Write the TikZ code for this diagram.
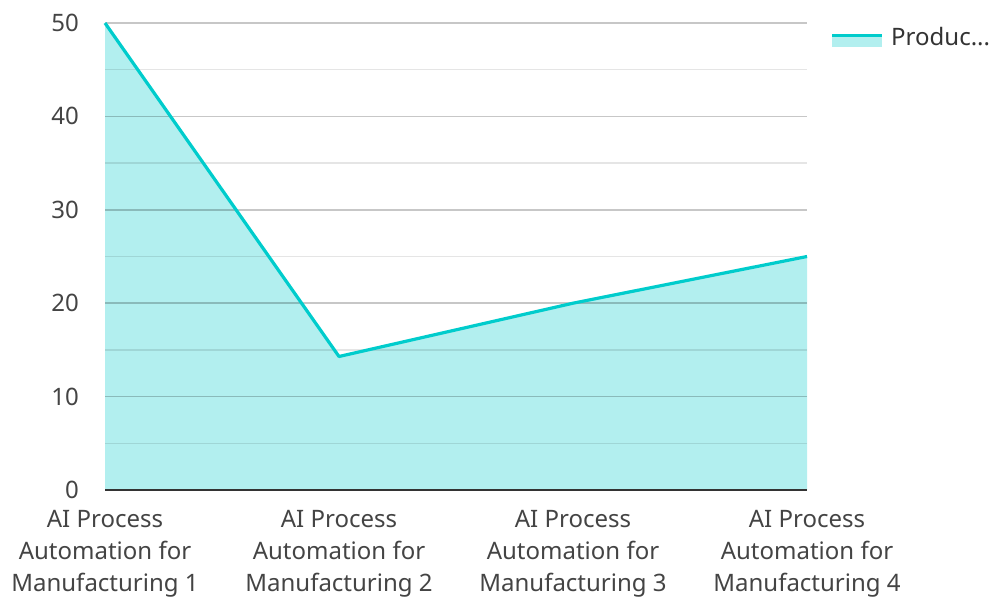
\documentclass[tikz,border=0pt]{standalone}
\usepackage{fontspec}
\setmainfont{Noto Sans}
\definecolor{linec}{RGB}{0,204,204}
\definecolor{fillc}{RGB}{178,239,239}
\definecolor{axisc}{RGB}{51,51,51}
\definecolor{txt}{RGB}{68,68,68}
\begin{document}
\begin{tikzpicture}[x=1pt,y=-1pt,
  ylab/.style={anchor=east,text=txt,font=\fontsize{24}{28}\selectfont,inner sep=0pt},
  xlab/.style={anchor=base,text=txt,align=center,font=\fontsize{24}{32}\selectfont,inner sep=0pt},
  majg/.style={draw=black,draw opacity=0.22,line width=1.5pt},
  ming/.style={draw=black,draw opacity=0.1,line width=1.5pt}]
\useasboundingbox (0,0) rectangle (994,597);
% fill
\fill[fillc] (105,490) -- (105,23) -- (339,356.5) -- (573,303.2) -- (807,256.5) -- (807,490) -- cycle;
% gridlines
\foreach \v in {5,15,25,35,45} {\draw[ming] (105,{490-\v*9.34}) -- (807,{490-\v*9.34});}
\foreach \v in {10,20,30,40,50} {\draw[majg] (105,{490-\v*9.34}) -- (807,{490-\v*9.34});}
\draw[axisc,line width=1.8pt] (105,490) -- (807,490);
% series
\coordinate (p1) at (105,23);
\coordinate (p2) at (339,356.5);
\coordinate (p3) at (573,303.2);
\coordinate (p4) at (807,256.5);
\draw[linec,line width=3.2pt,line join=round] (p1) -- (p2) -- (p3) -- (p4);
% y labels
\foreach \v in {0,10,20,30,40,50} {\node[ylab] (y\v) at (79,{490-\v*9.34}) {\v};}
% x labels
\foreach \i/\x in {1/105,2/339,3/573,4/807} {\node[xlab] (x\i) at (\x,591) {AI Process\\Automation for\\Manufacturing \i};}
% legend
\fill[fillc] (832,36) rectangle (882,47);
\coordinate (la) at (832,35.5);
\coordinate (lb) at (882,35.5);
\draw[linec,line width=3.2pt] (la) -- (lb);
\node[anchor=west,text=axisc,font=\fontsize{24}{28}\selectfont,inner sep=0pt] (leg) at (891,37) {Produc...};
\end{tikzpicture}
\end{document}
